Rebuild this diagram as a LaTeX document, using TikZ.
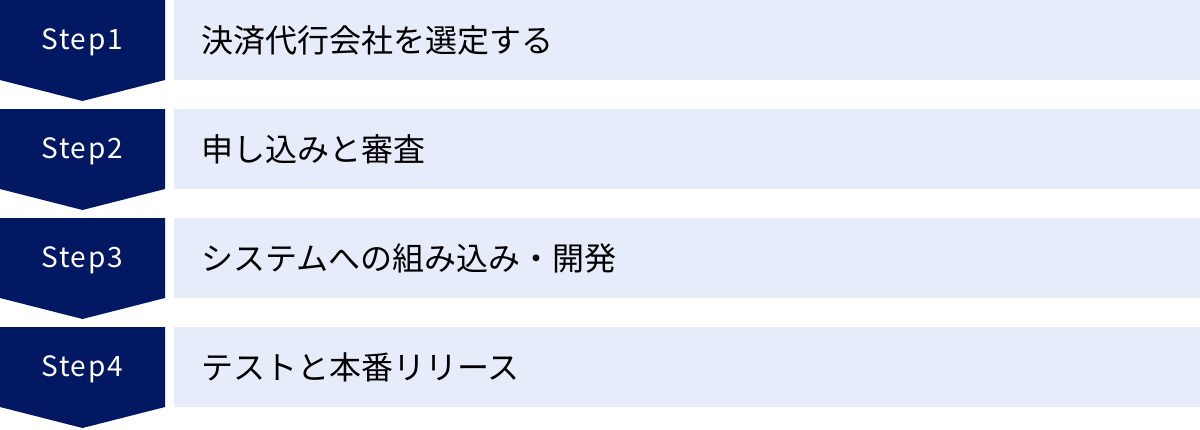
\documentclass[tikz,border=0pt]{standalone}
\usepackage{fontspec}
\newfontfamily\jpfont{Noto Sans CJK JP}
\newfontfamily\stepfont[LetterSpace=6]{Noto Sans CJK JP}
\definecolor{navy}{RGB}{3,24,99}
\definecolor{pale}{RGB}{230,236,249}
\usetikzlibrary{positioning}

\begin{document}
\begin{tikzpicture}[x=1pt,y=-1pt,
    steplabel/.style={text=white,inner sep=0pt,font=\stepfont\fontsize{28}{32}\selectfont},
    taskbox/.style={fill=pale,anchor=north west,minimum width=1026pt,minimum height=80pt,inner sep=0pt},
    tasklabel/.style={anchor=west,inner sep=0pt,font=\jpfont\fontsize{32}{36}\selectfont}]
      \useasboundingbox (0,0) rectangle (1200,429);

      % navy arrows
      \fill[navy] (0,0) -- (165,0) -- (165,80) -- (82.5,101) -- (0,80) -- cycle;
      \fill[navy] (0,109) -- (165,109) -- (165,189) -- (82.5,210) -- (0,189) -- cycle;
      \fill[navy] (0,218) -- (165,218) -- (165,298) -- (82.5,319) -- (0,298) -- cycle;
      \fill[navy] (0,327) -- (165,327) -- (165,407) -- (82.5,428) -- (0,407) -- cycle;

      \node[steplabel] (s1) at (82,42) {Step1};
      \node[steplabel] (s2) at (82,151) {Step2};
      \node[steplabel] (s3) at (82,260) {Step3};
      \node[steplabel] (s4) at (82,369) {Step4};

      \node[taskbox] (b1) at (174,0) {};
      \node[taskbox] (b2) at (174,109) {};
      \node[taskbox] (b3) at (174,218) {};
      \node[taskbox] (b4) at (174,327) {};

      \node[tasklabel] (t1) at (201,40) {決済代行会社を選定する};
      \node[tasklabel] (t2) at (201,149) {申し込みと審査};
      \node[tasklabel] (t3) at (201,258) {システムへの組み込み・開発};
      \node[tasklabel] (t4) at (201,367) {テストと本番リリース};
    \end{tikzpicture}
\end{document}
